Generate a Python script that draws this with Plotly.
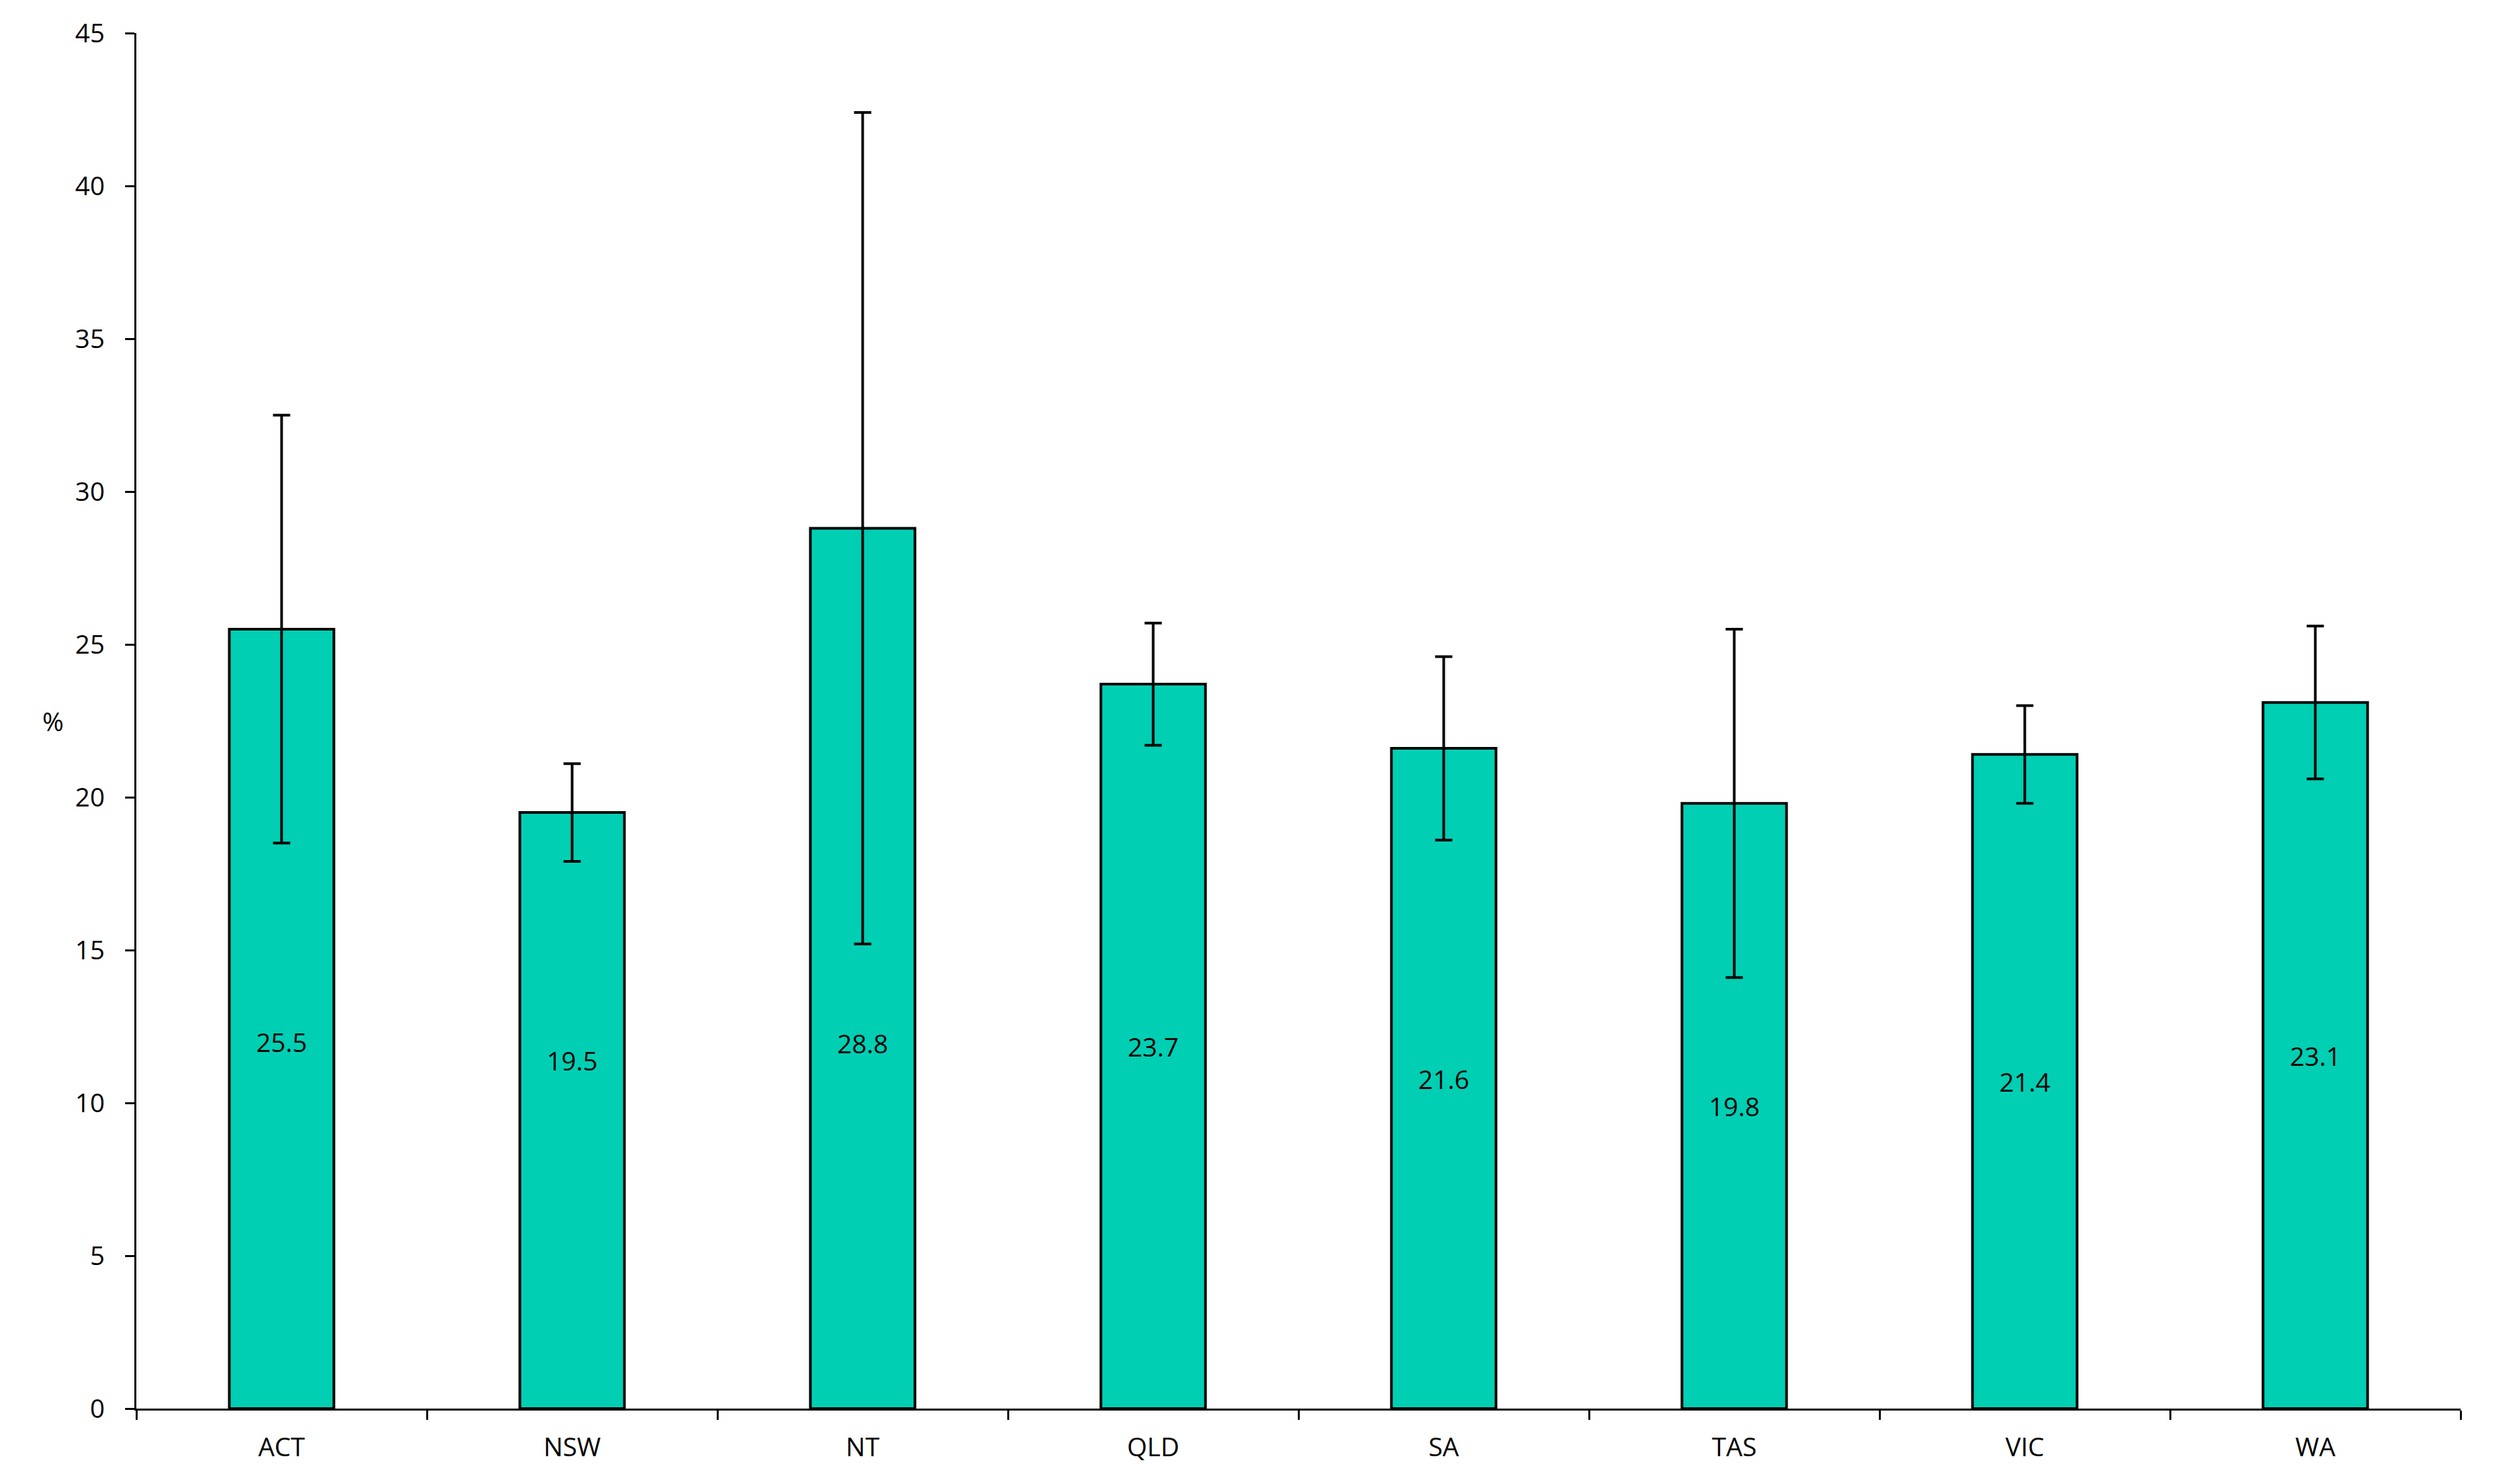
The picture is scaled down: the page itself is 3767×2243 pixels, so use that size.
import plotly.graph_objects as go

states = ["ACT", "NSW", "NT", "QLD", "SA", "TAS", "VIC", "WA"]
values = [25.5, 19.5, 28.8, 23.7, 21.6, 19.8, 21.4, 23.1]
err_plus = [7.0, 1.6, 13.6, 2.0, 3.0, 5.7, 1.6, 2.5]
err_minus = [7.0, 1.6, 13.6, 2.0, 3.0, 5.7, 1.6, 2.5]
y_ticks = [0, 5, 10, 15, 20, 25, 30, 35, 40, 45]
# vertical placement of the value labels (in axis units)
label_pos = [12.0, 11.4, 11.95, 11.85, 10.8, 9.9, 10.7, 11.55]

FONT = "Open Sans"
FS = 39

fig = go.Figure()
fig.add_trace(go.Bar(
    x=states,
    y=values,
    marker=dict(color="#00CFB4", line=dict(color="black", width=4)),
    error_y=dict(type="data", symmetric=False, array=err_plus, arrayminus=err_minus,
                 color="black", thickness=4, width=13),
    cliponaxis=False,
))

for s, v, p in zip(states, values, label_pos):
    fig.add_annotation(
        x=s, y=p, xref="x", yref="y", text=f"{v:.1f}", showarrow=False,
        xanchor="center", yanchor="middle",
        font=dict(family=FONT, size=FS, color="black"),
    )

W, H = 3759, 2235
L, R, T, B = 198, 49, 42, 114

fig.update_layout(
    width=W, height=H,
    margin=dict(l=L, r=R, t=T, b=B),
    plot_bgcolor="white", paper_bgcolor="white",
    bargap=0.64,
    showlegend=False,
    font=dict(family=FONT, size=FS, color="black"),
)
fig.update_xaxes(
    showline=True, linecolor="black", linewidth=3,
    ticks="outside", tickson="boundaries", ticklen=14, tickwidth=3, tickcolor="black",
    showgrid=False, tickfont=dict(family=FONT, size=FS, color="black"),
    ticklabelstandoff=22,
)
fig.update_yaxes(
    range=[0, 45], tickvals=y_ticks, ticktext=[str(t) for t in y_ticks],
    showline=True, linecolor="black", linewidth=3,
    ticks="outside", ticklen=14, tickwidth=3, tickcolor="black",
    showgrid=False, zeroline=False, tickfont=dict(family=FONT, size=FS, color="black"),
    ticklabelstandoff=23,
)
fig.add_annotation(
    text="%", xref="paper", yref="paper", x=-(L - 72) / (W - L - R), y=0.5,
    xanchor="center", yanchor="middle", showarrow=False,
    font=dict(family=FONT, size=FS, color="black"),
)

fig.write_html("out.html")
